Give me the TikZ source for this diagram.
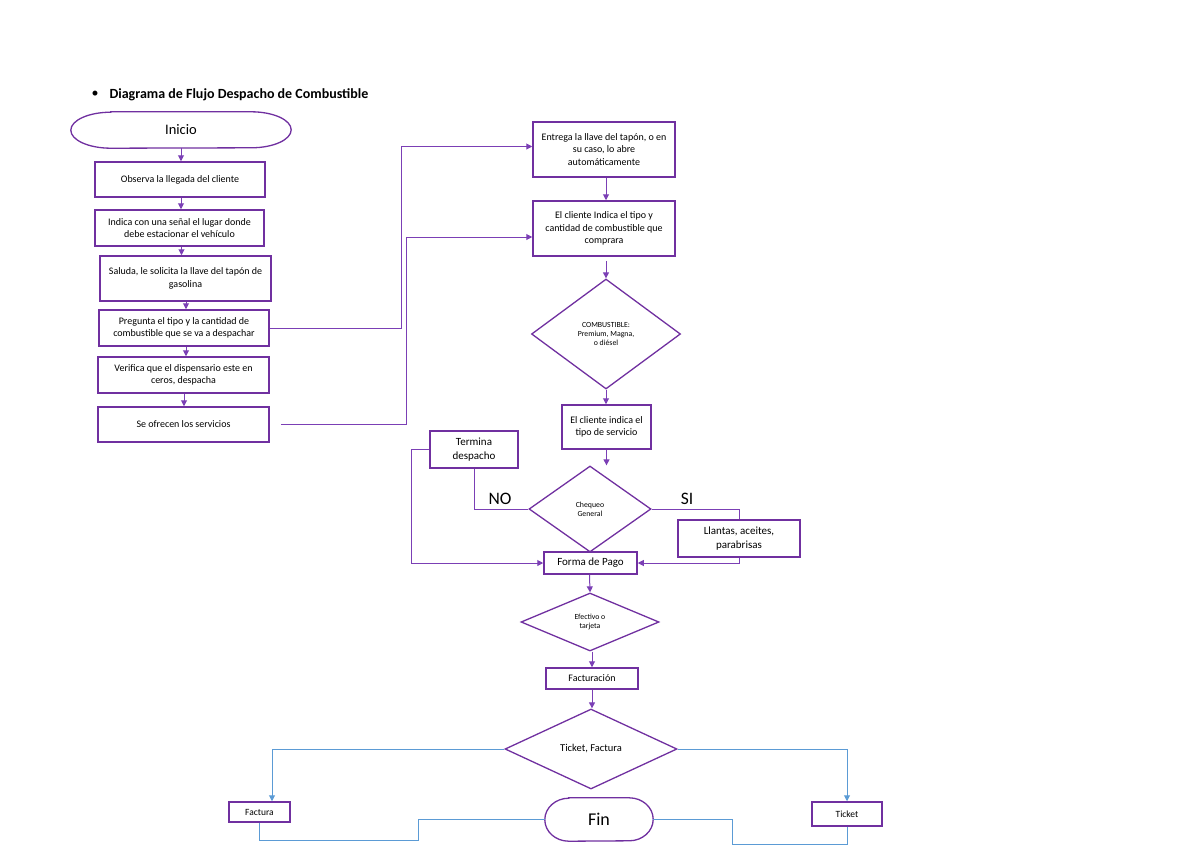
\documentclass[tikz,border=0pt]{standalone}
\usepackage{fontspec}
\setmainfont{Carlito}
\usetikzlibrary{arrows.meta,shapes.geometric}
\definecolor{pur}{HTML}{7030A0}
\definecolor{lpur}{HTML}{7B3FB5}
\definecolor{blu}{HTML}{5B9BD5}
\begin{document}
\begin{tikzpicture}[x=1pt,y=-1pt,
 box/.style={draw=pur,line width=1.5pt,align=center,inner sep=1pt,font=\fontsize{10}{12.3}\selectfont},
 bigbox/.style={box,font=\fontsize{11}{13.5}\selectfont},
 dia/.style={draw=pur,line width=1.3pt,diamond,inner sep=0pt,align=center,font=\fontsize{7.8}{9.3}\selectfont},
 arr/.style={draw=lpur,line width=1pt,-{Triangle[length=6pt,width=6pt]}},
 ln/.style={draw=lpur,line width=1pt},
 barr/.style={draw=blu,line width=1pt,-{Triangle[length=6pt,width=6pt]}},
 bln/.style={draw=blu,line width=1pt},
]
\useasboundingbox (0,0) rectangle (1200,849);

% title
\node[font=\fontsize{14}{16}\selectfont] (bul) at (95,94) {\textbullet};
\node[anchor=west,font=\fontsize{14}{16}\selectfont\bfseries] (title) at (106,95) {Diagrama de Flujo Despacho de Combustible};

% left column
\node[minimum width=220pt,minimum height=36pt,font=\fontsize{14.5}{16}\selectfont] (inicio) at (181,130) {Inicio};
\draw[pur,line width=1.3pt] ([xshift=40pt]inicio.north west) -- ([xshift=-40pt]inicio.north east)
  arc[start angle=90,end angle=-90,x radius=40pt,y radius=18pt]
  -- ([xshift=40pt]inicio.south west)
  arc[start angle=270,end angle=90,x radius=40pt,y radius=18pt] -- cycle;

\node[box,minimum width=170pt,minimum height=35pt] (obs) at (180,179.5) {Observa la llegada del cliente};
\node[box,minimum width=169pt,minimum height=36pt] (ind) at (179.5,228) {Indica con una señal el lugar donde\\debe estacionar el vehículo};
\node[box,minimum width=171pt,minimum height=45pt] (sal) at (185.5,278.5) {Saluda, le solicita la llave del tapón de\\gasolina};
\node[box,minimum width=170pt,minimum height=36pt] (pre) at (184,328) {Pregunta el tipo y la cantidad de\\combustible que se va a despachar};
\node[box,minimum width=171pt,minimum height=36pt] (ver) at (183.5,375) {Verifica que el dispensario este en\\ceros, despacha};
\node[box,minimum width=171pt,minimum height=35pt] (ofr) at (183.5,424.5) {Se ofrecen los servicios};

\draw[arr] (inicio.south) -- (inicio.south |- obs.north);
\draw[arr] ([xshift=1pt]obs.south) -- ([xshift=1pt]obs.south |- ind.north);
\draw[arr] ([xshift=2pt]ind.south) -- ([xshift=2pt]ind.south |- sal.north);
\draw[arr] ([xshift=0.5pt]sal.south) -- ([xshift=0.5pt]sal.south |- pre.north);
\draw[arr] ([xshift=2pt]pre.south) -- ([xshift=2pt]pre.south |- ver.north);
\draw[arr] ([xshift=0.5pt]ver.south) -- ([xshift=0.5pt]ver.south |- ofr.north);

% right column
\node[box,minimum width=142pt,minimum height=55pt] (ent) at (604,149.5) {Entrega la llave del tapón, o en\\su caso, lo abre\\automáticamente};
\node[box,minimum width=142pt,minimum height=55pt] (cli) at (604,228.5) {El cliente Indica el tipo y\\cantidad de combustible que\\comprara};
\node[dia,minimum width=149pt,minimum height=110pt] (comb) at (606,334) {COMBUSTIBLE:\\Premium, Magna,\\o diésel};
\node[box,minimum width=89pt,minimum height=44pt] (serv) at (606.5,427) {El cliente indica el\\tipo de servicio};

\draw[arr] (pre.east) -- ++(132,0) |- ([yshift=3pt]ent.west);
\draw[ln] ([xshift=11pt]ofr.east) -- ++(126,0);
\draw[arr] ([xshift=137pt]ofr.east) |- ([yshift=-8.5pt]cli.west);
\draw[arr] ([xshift=2pt]ent.south) -- ([xshift=2pt]cli.north);
\draw[arr] ([xshift=2pt,yshift=-4pt]cli.south) -- (comb.north);
\draw[arr] (comb.south) -- (comb.south |- serv.north);

% chequeo
\node[dia,minimum width=122pt,minimum height=86pt] (cheq) at (590,509) {Chequeo\\General};
\node[bigbox,minimum width=88pt,minimum height=37pt] (term) at (474,449.5) {Termina\\despacho};
\node[bigbox,minimum width=122pt,minimum height=37pt] (llan) at (739,538.5) {Llantas, aceites,\\parabrisas};
\node[bigbox,minimum width=93pt,minimum height=22pt,fill=white] (forma) at (590.5,563) {Forma de Pago};
\node[font=\fontsize{17.5}{20}\selectfont] (no) at (500,499) {NO};
\node[font=\fontsize{17.5}{20}\selectfont] (si) at (687,499) {SI};

\draw[arr] (serv.south) -- (serv.south |- cheq.north);
\draw[ln] (term.south) |- (cheq.west);
\draw[arr] (term.west) -- ++(-18,0) |- (forma.west);
\draw[ln] (cheq.east) -| (llan.north);
\draw[arr] (llan.south) |- (forma.east);

% pago
\node[dia,minimum width=138pt,minimum height=58pt] (efec) at (590,622) {Efectivo o\\tarjeta};
\node[box,minimum width=92pt,minimum height=21pt] (fact) at (592,678.5) {Facturación};
\node[dia,minimum width=172pt,minimum height=80pt,font=\fontsize{10.5}{12}\selectfont] (tf) at (591,749) {Ticket, Factura};

\draw[arr] ([xshift=-1pt]forma.south) -- (efec.north);
\draw[arr] ([xshift=2pt]efec.south) -- ([xshift=2pt]efec.south |- fact.north);
\draw[arr] (fact.south) -- (fact.south |- tf.north);

% end
\node[box,minimum width=61pt,minimum height=20pt,font=\fontsize{9.5}{11}\selectfont] (factura) at (259.5,812) {Factura};
\node[box,minimum width=70pt,minimum height=24pt,font=\fontsize{9.5}{11}\selectfont] (ticket) at (847,814) {Ticket};
\node[minimum width=108pt,minimum height=43pt,font=\fontsize{18}{20}\selectfont] (fin) at (599,819.5) {Fin};
\draw[pur,line width=1.3pt] ([xshift=24pt]fin.north west) -- ([xshift=-24pt]fin.north east)
  arc[start angle=90,end angle=-90,x radius=24pt,y radius=21.5pt]
  -- ([xshift=24pt]fin.south west)
  arc[start angle=270,end angle=90,x radius=24pt,y radius=21.5pt] -- cycle;

\coordinate (c1) at (418,840);
\coordinate (c2) at (732,844);
\draw[barr] (tf.west) -| ([xshift=12.5pt]factura.north);
\draw[barr] (tf.east) -| (ticket.north);
\draw[bln] (factura.south) |- (c1) |- (fin.west);
\draw[bln] (fin.east) -| (c2) -| (ticket.south);
\end{tikzpicture}
\end{document}
